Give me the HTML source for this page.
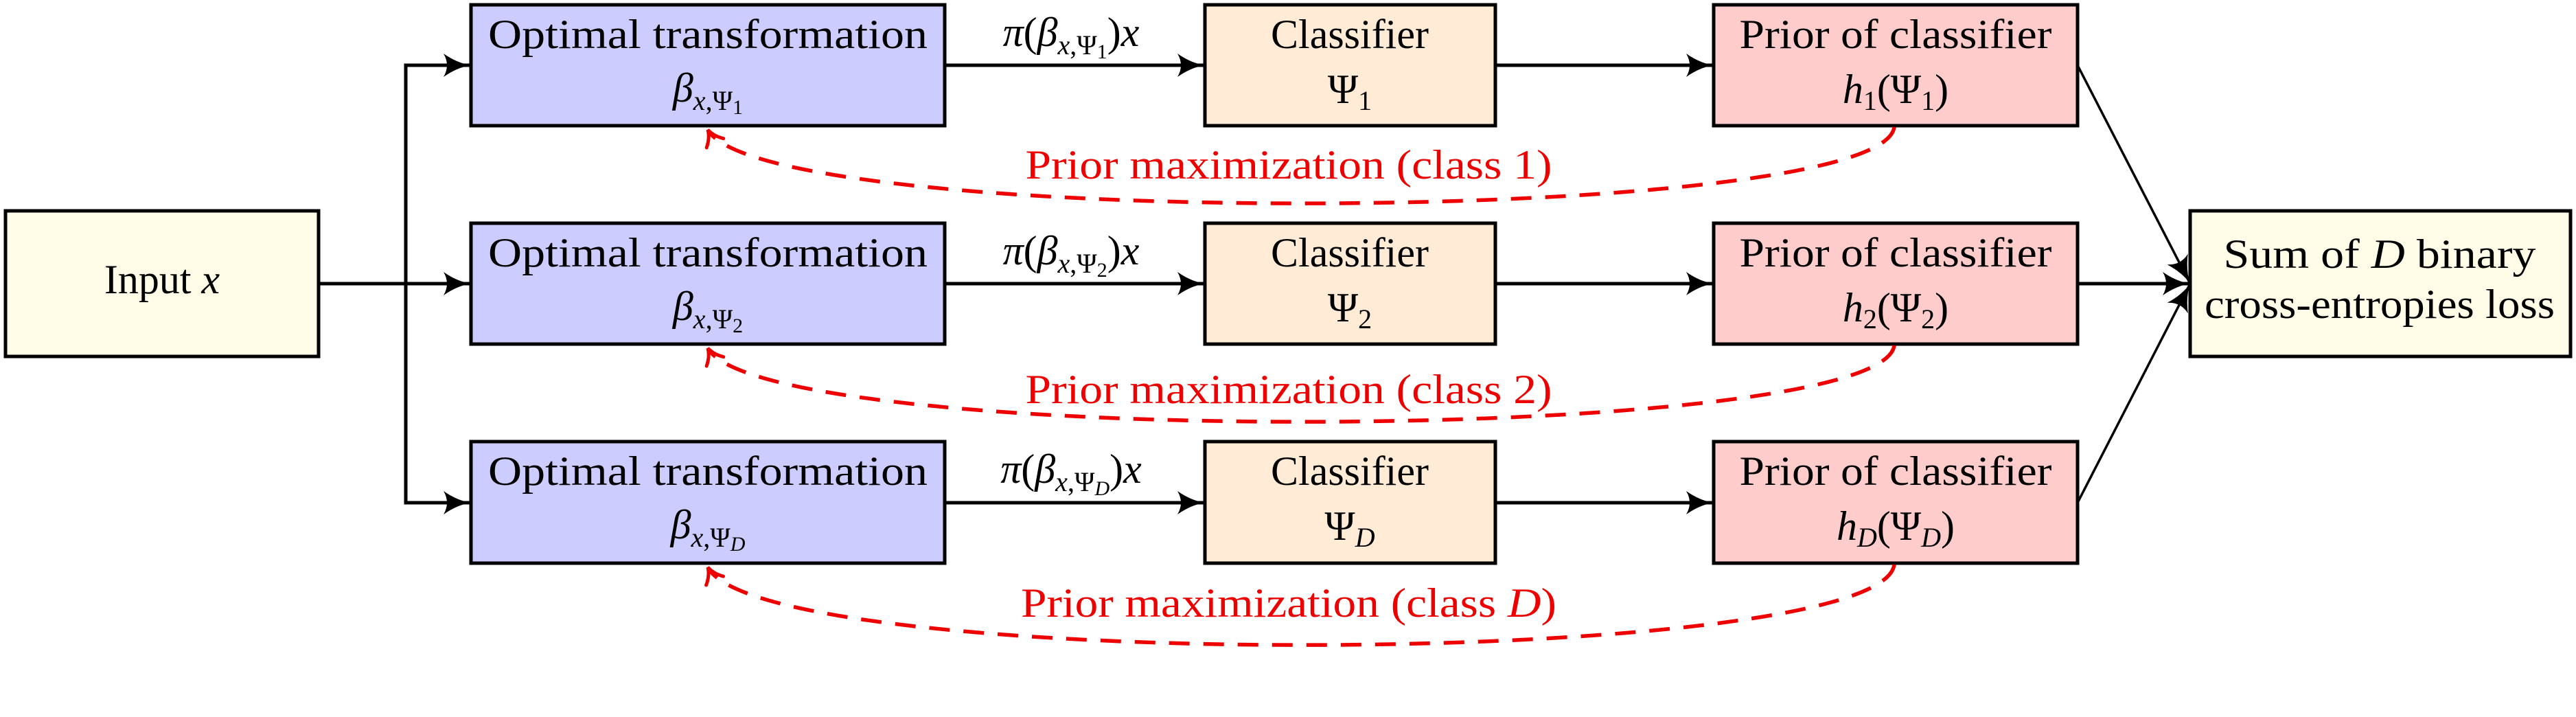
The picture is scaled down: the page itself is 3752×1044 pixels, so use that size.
<!DOCTYPE html>
<html><head><meta charset="utf-8"><style>
html,body{margin:0;padding:0;background:#fff;}
svg{display:block;}
svg text{font-family:"Liberation Serif","DejaVu Serif",serif !important;font-size:60px;fill:#000;}
svg text.r{fill:#ee0000;}
.i{font-style:italic;}
.s{font-size:40px;}
</style></head><body>
<svg width="3752" height="1044" viewBox="0 0 3752 1044" xmlns="http://www.w3.org/2000/svg" font-family="Liberation Serif, serif">
<defs>
<marker id="ah" markerWidth="44" markerHeight="40" refX="40" refY="20" orient="auto" markerUnits="userSpaceOnUse">
<path d="M0,3 Q20,17 40,20 Q20,23 0,37 Q10,20 0,3 Z" fill="#000"/>
</marker>
<marker id="rh" markerWidth="30" markerHeight="34" refX="26" refY="17" orient="auto" markerUnits="userSpaceOnUse">
<path d="M4,3 Q14,14 26,17 Q14,20 4,31" fill="none" stroke="#ee0000" stroke-width="5" stroke-linecap="round"/>
</marker>
</defs>

<g stroke="#000" stroke-width="5">
<rect x="8" y="307" width="456" height="212" fill="#fffde8"/>
<rect x="3190" y="307" width="554" height="212" fill="#fffde8"/>
<rect x="686" y="7" width="690" height="176" fill="#ccccff"/>
<rect x="686" y="325" width="690" height="176" fill="#ccccff"/>
<rect x="686" y="643" width="690" height="177" fill="#ccccff"/>
<rect x="1755" y="7" width="423" height="176" fill="#ffebd6"/>
<rect x="1755" y="325" width="423" height="176" fill="#ffebd6"/>
<rect x="1755" y="643" width="423" height="177" fill="#ffebd6"/>
<rect x="2496" y="7" width="530" height="176" fill="#ffcccc"/>
<rect x="2496" y="325" width="530" height="176" fill="#ffcccc"/>
<rect x="2496" y="643" width="530" height="177" fill="#ffcccc"/>
</g>

<g stroke="#000" stroke-width="5" fill="none">
<path d="M464,413 H686" marker-end="url(#ah)"/>
<path d="M591,413 V95 H686" marker-end="url(#ah)"/>
<path d="M591,413 V732 H686" marker-end="url(#ah)"/>
<path d="M1376,95 H1755" marker-end="url(#ah)"/>
<path d="M1376,413 H1755" marker-end="url(#ah)"/>
<path d="M1376,732 H1755" marker-end="url(#ah)"/>
<path d="M2178,95 H2496" marker-end="url(#ah)"/>
<path d="M2178,413 H2496" marker-end="url(#ah)"/>
<path d="M2178,732 H2496" marker-end="url(#ah)"/>
<path d="M3026,413 H3190" marker-end="url(#ah)"/>
</g>
<g stroke="#000" stroke-width="3.5" fill="none">
<path d="M3026,95 L3190,413" marker-end="url(#ah)"/>
<path d="M3026,732 L3190,413" marker-end="url(#ah)"/>
</g>

<g stroke="#ee0000" stroke-width="5.5" fill="none" stroke-dasharray="30 20">
<path d="M2759,185 C2740,330 1110,335 1031,189" marker-end="url(#rh)"/>
<path d="M2759,503 C2740,648 1110,653 1031,507" marker-end="url(#rh)"/>
<path d="M2759,822 C2740,975 1110,980 1031,826" marker-end="url(#rh)"/>
</g>

<g text-anchor="middle" font-family="Liberation Serif, serif">
<text x="236" y="427">Input <tspan class="i">x</tspan></text>
<text x="3466" y="390" textLength="455" lengthAdjust="spacingAndGlyphs">Sum of <tspan class="i">D</tspan> binary</text>
<text x="3466" y="463" textLength="510" lengthAdjust="spacingAndGlyphs">cross-entropies loss</text>

<text x="1031" y="70" textLength="640" lengthAdjust="spacingAndGlyphs">Optimal transformation</text>
<text x="1031" y="388" textLength="640" lengthAdjust="spacingAndGlyphs">Optimal transformation</text>
<text x="1031" y="706" textLength="640" lengthAdjust="spacingAndGlyphs">Optimal transformation</text>
<text x="1031" y="148"><tspan class="i">β</tspan><tspan class="s i" dy="12">x</tspan><tspan class="s">,Ψ</tspan><tspan dy="6" style="font-size:30px">1</tspan></text>
<text x="1031" y="466"><tspan class="i">β</tspan><tspan class="s i" dy="12">x</tspan><tspan class="s">,Ψ</tspan><tspan dy="6" style="font-size:30px">2</tspan></text>
<text x="1031" y="784"><tspan class="i">β</tspan><tspan class="s i" dy="12">x</tspan><tspan class="s">,Ψ</tspan><tspan class="i" dy="6" style="font-size:30px">D</tspan></text>

<text x="1560" y="67"><tspan class="i">π</tspan>(<tspan class="i">β</tspan><tspan class="s i" dy="12">x</tspan><tspan class="s">,Ψ</tspan><tspan dy="6" style="font-size:30px">1</tspan><tspan dy="-18">)</tspan><tspan class="i">x</tspan></text>
<text x="1560" y="385"><tspan class="i">π</tspan>(<tspan class="i">β</tspan><tspan class="s i" dy="12">x</tspan><tspan class="s">,Ψ</tspan><tspan dy="6" style="font-size:30px">2</tspan><tspan dy="-18">)</tspan><tspan class="i">x</tspan></text>
<text x="1560" y="703"><tspan class="i">π</tspan>(<tspan class="i">β</tspan><tspan class="s i" dy="12">x</tspan><tspan class="s">,Ψ</tspan><tspan class="i" dy="6" style="font-size:30px">D</tspan><tspan dy="-18">)</tspan><tspan class="i">x</tspan></text>

<text x="1966" y="70">Classifier</text>
<text x="1966" y="388">Classifier</text>
<text x="1966" y="706">Classifier</text>
<text x="1966" y="150">Ψ<tspan class="s" dy="10">1</tspan></text>
<text x="1966" y="468">Ψ<tspan class="s" dy="10">2</tspan></text>
<text x="1966" y="786">Ψ<tspan class="s i" dy="10">D</tspan></text>

<text x="2761" y="70" textLength="455" lengthAdjust="spacingAndGlyphs">Prior of classifier</text>
<text x="2761" y="388" textLength="455" lengthAdjust="spacingAndGlyphs">Prior of classifier</text>
<text x="2761" y="706" textLength="455" lengthAdjust="spacingAndGlyphs">Prior of classifier</text>
<text x="2761" y="150"><tspan class="i">h</tspan><tspan class="s" dy="10">1</tspan><tspan dy="-10">(Ψ</tspan><tspan class="s" dy="10">1</tspan><tspan dy="-10">)</tspan></text>
<text x="2761" y="468"><tspan class="i">h</tspan><tspan class="s" dy="10">2</tspan><tspan dy="-10">(Ψ</tspan><tspan class="s" dy="10">2</tspan><tspan dy="-10">)</tspan></text>
<text x="2761" y="786"><tspan class="i">h</tspan><tspan class="s i" dy="10">D</tspan><tspan dy="-10">(Ψ</tspan><tspan class="s i" dy="10">D</tspan><tspan dy="-10">)</tspan></text>

<text class="r" x="1877" y="260" textLength="767" lengthAdjust="spacingAndGlyphs">Prior maximization (class 1)</text>
<text class="r" x="1877" y="587" textLength="767" lengthAdjust="spacingAndGlyphs">Prior maximization (class 2)</text>
<text class="r" x="1877" y="898" textLength="780" lengthAdjust="spacingAndGlyphs">Prior maximization (class <tspan class="i">D</tspan>)</text>
</g>
</svg>
</body></html>
